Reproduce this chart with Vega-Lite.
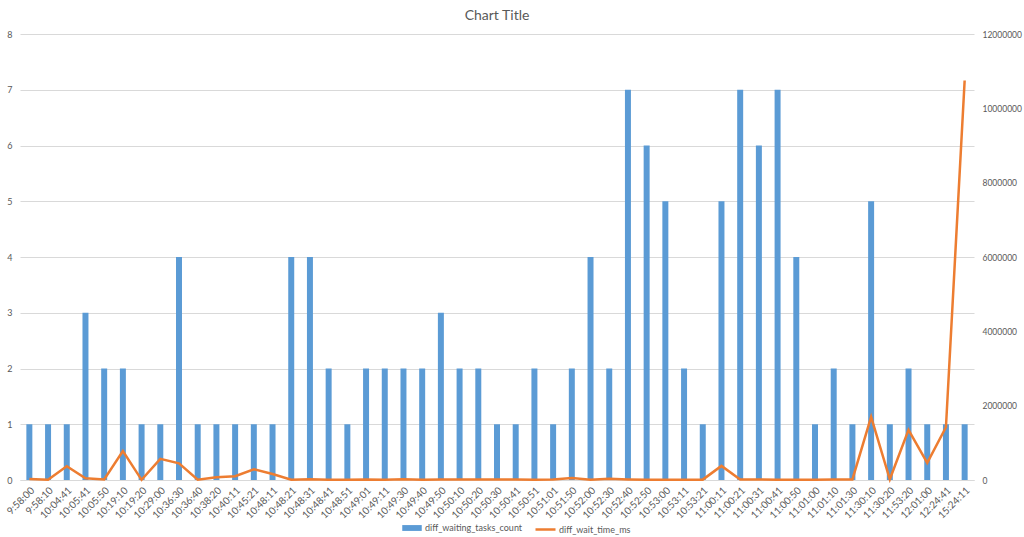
{
  "$schema": "https://vega.github.io/schema/vega-lite/v6.json",
  "width": 954,
  "height": 446,
  "autosize": "none",
  "padding": {"left": 20, "top": 34, "right": 50, "bottom": 57},
  "background": "white",
  "title": {"text": "Chart Title", "fontSize": 14, "fontWeight": "normal", "color": "#595959", "font": "Lato", "offset": 7},
  "data": {
    "values": [
      {"t": "9:58:00", "count": 1, "wait": 30000},
      {"t": "9:58:10", "count": 1, "wait": 5000},
      {"t": "10:04:41", "count": 1, "wait": 370000},
      {"t": "10:05:41", "count": 3, "wait": 45000},
      {"t": "10:05:50", "count": 2, "wait": 15000},
      {"t": "10:19:10", "count": 2, "wait": 780000},
      {"t": "10:19:20", "count": 1, "wait": 5000},
      {"t": "10:29:00", "count": 1, "wait": 570000},
      {"t": "10:36:30", "count": 4, "wait": 450000},
      {"t": "10:36:40", "count": 1, "wait": 10000},
      {"t": "10:38:20", "count": 1, "wait": 72000},
      {"t": "10:40:11", "count": 1, "wait": 100000},
      {"t": "10:45:21", "count": 1, "wait": 290000},
      {"t": "10:48:11", "count": 1, "wait": 160000},
      {"t": "10:48:21", "count": 4, "wait": 10000},
      {"t": "10:48:31", "count": 4, "wait": 20000},
      {"t": "10:48:41", "count": 2, "wait": 10000},
      {"t": "10:48:51", "count": 1, "wait": 5000},
      {"t": "10:49:01", "count": 2, "wait": 15000},
      {"t": "10:49:11", "count": 2, "wait": 10000},
      {"t": "10:49:30", "count": 2, "wait": 20000},
      {"t": "10:49:40", "count": 2, "wait": 10000},
      {"t": "10:49:50", "count": 3, "wait": 15000},
      {"t": "10:50:10", "count": 2, "wait": 15000},
      {"t": "10:50:20", "count": 2, "wait": 15000},
      {"t": "10:50:30", "count": 1, "wait": 15000},
      {"t": "10:50:41", "count": 1, "wait": 15000},
      {"t": "10:50:51", "count": 2, "wait": 10000},
      {"t": "10:51:01", "count": 1, "wait": 15000},
      {"t": "10:51:50", "count": 2, "wait": 55000},
      {"t": "10:52:00", "count": 4, "wait": 5000},
      {"t": "10:52:30", "count": 2, "wait": 35000},
      {"t": "10:52:40", "count": 7, "wait": 15000},
      {"t": "10:52:50", "count": 6, "wait": 5000},
      {"t": "10:53:00", "count": 5, "wait": 5000},
      {"t": "10:53:11", "count": 2, "wait": 10000},
      {"t": "10:53:21", "count": 1, "wait": 10000},
      {"t": "11:00:11", "count": 5, "wait": 380000},
      {"t": "11:00:21", "count": 7, "wait": 15000},
      {"t": "11:00:31", "count": 6, "wait": 15000},
      {"t": "11:00:41", "count": 7, "wait": 10000},
      {"t": "11:00:50", "count": 4, "wait": 10000},
      {"t": "11:01:00", "count": 1, "wait": 10000},
      {"t": "11:01:10", "count": 2, "wait": 15000},
      {"t": "11:01:30", "count": 1, "wait": 15000},
      {"t": "11:30:10", "count": 5, "wait": 1700000},
      {"t": "11:30:20", "count": 1, "wait": 20000},
      {"t": "11:53:20", "count": 2, "wait": 1350000},
      {"t": "12:01:00", "count": 1, "wait": 460000},
      {"t": "12:24:41", "count": 1, "wait": 1420000},
      {"t": "15:24:11", "count": 1, "wait": 10750000}
    ]
  },
  "encoding": {
    "x": {
      "field": "t",
      "type": "ordinal",
      "sort": null,
      "title": null,
      "scale": {"paddingInner": 0.68, "paddingOuter": 0.34},
      "axis": {
        "labelAngle": -45,
        "labelAlign": "right",
        "labelBaseline": "top",
        "labelFontSize": 10,
        "labelColor": "#595959",
        "labelFont": "Lato",
        "labelPadding": 5,
        "ticks": false,
        "domainColor": "#D9D9D9",
        "grid": false
      }
    }
  },
  "layer": [
    {
      "mark": {"type": "bar", "color": "#5B9BD5"},
      "encoding": {
        "y": {
          "field": "count",
          "type": "quantitative",
          "title": null,
          "scale": {"domain": [0, 8]},
          "axis": {
            "values": [0, 1, 2, 3, 4, 5, 6, 7, 8],
            "domain": false,
            "ticks": false,
            "gridColor": "#D9D9D9",
            "labelColor": "#595959",
            "labelFont": "Lato",
            "labelFontSize": 9,
            "labelPadding": 8
          }
        },
        "color": {
          "datum": "diff_waiting_tasks_count",
          "scale": {"range": ["#5B9BD5"]},
          "legend": {
            "title": null,
            "orient": "none",
            "legendX": 382,
            "legendY": 484,
            "labelFontSize": 9,
            "labelColor": "#595959",
            "labelFont": "Lato",
            "labelOffset": 3,
            "symbolType": "M-1,-0.3H1V0.3H-1Z",
            "symbolSize": 380,
            "symbolStrokeWidth": 0
          }
        }
      }
    },
    {
      "mark": {"type": "line", "color": "#ED7D31", "strokeWidth": 2.5},
      "encoding": {
        "y": {
          "field": "wait",
          "type": "quantitative",
          "title": null,
          "scale": {"domain": [0, 12000000]},
          "axis": {
            "orient": "right",
            "values": [0, 2000000, 4000000, 6000000, 8000000, 10000000, 12000000],
            "format": "d",
            "grid": false,
            "domain": false,
            "ticks": false,
            "labelColor": "#595959",
            "labelFont": "Lato",
            "labelFontSize": 8.5,
            "labelPadding": 8
          }
        },
        "color": {
          "datum": "diff_wait_time_ms",
          "scale": {"range": ["#ED7D31"]},
          "legend": {
            "title": null,
            "orient": "none",
            "legendX": 514,
            "legendY": 484,
            "labelFontSize": 9,
            "labelColor": "#595959",
            "labelFont": "Lato",
            "labelOffset": 2,
            "symbolSize": 400,
            "symbolStrokeWidth": 2.5
          }
        }
      }
    }
  ],
  "resolve": {"scale": {"y": "independent", "color": "independent"}},
  "config": {"view": {"stroke": null}}
}
